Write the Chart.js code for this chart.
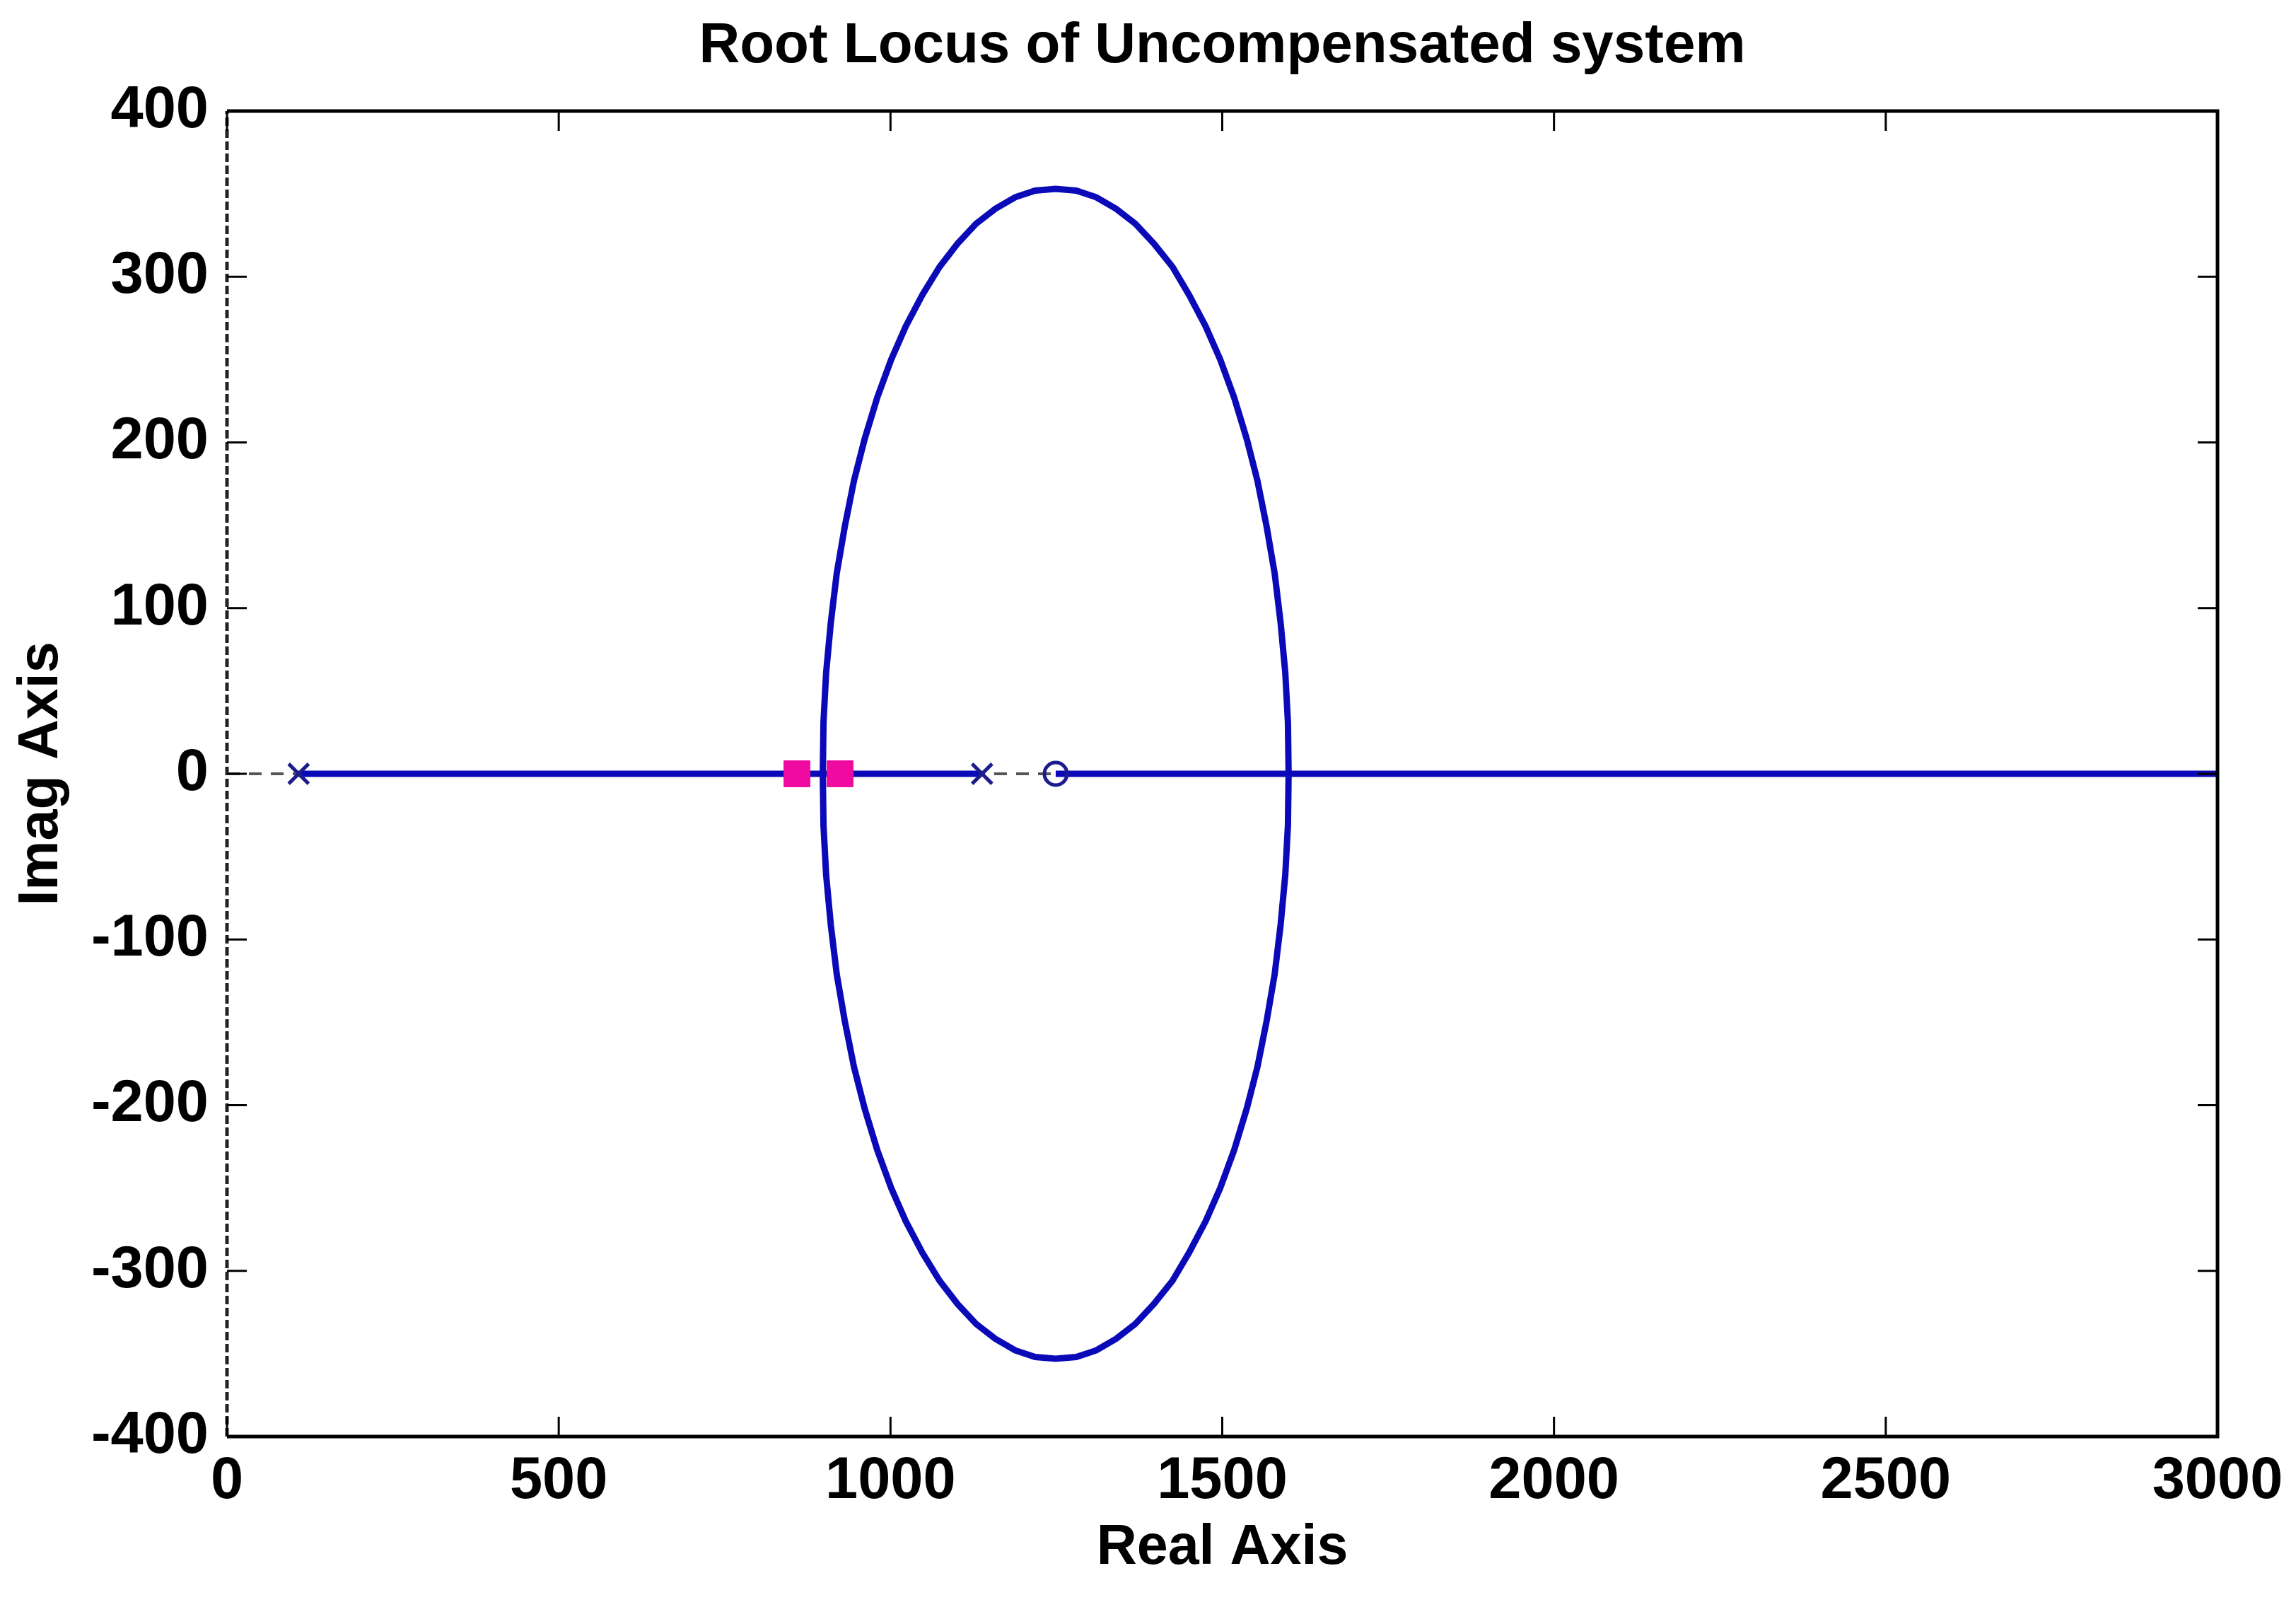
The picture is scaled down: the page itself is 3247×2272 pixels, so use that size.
<!DOCTYPE html>
<html>
<head>
<meta charset="utf-8">
<script src="https://cdn.jsdelivr.net/npm/chart.js@4.4.1/dist/chart.umd.min.js"></script>
<style>
  html, body { margin: 0; padding: 0; background: #fff; }
  #wrap { width: 3247px; height: 2272px; }
</style>
</head>
<body>
<div id="wrap"><canvas id="locus" width="3247" height="2272"></canvas></div>
<script>
// tick labels
const xTickValues = [0, 500, 1000, 1500, 2000, 2500, 3000];
const yTickValues = [-400, -300, -200, -100, 0, 100, 200, 300, 400];

// open-loop poles (x) and zero (o), on the real axis
const poleRe = [108, 1138];
const zeroRe = [1249];
// closed-loop poles (magenta squares)
const clPoleRe = [859, 924];

// real-axis parts of the locus
const realSeg1Re = [108, 1138];
const realSeg2Re = [1249, 3000];

// complex branch (breakaway ~898, break-in ~1600)
const branchRe = [898, 899, 903, 910, 919, 931, 945, 961, 980, 1001, 1023, 1048, 1074,
                  1101, 1129, 1158, 1188, 1218, 1249, 1280, 1310, 1340, 1369, 1397, 1425,
                  1450, 1475, 1497, 1518, 1537, 1553, 1567, 1579, 1588, 1595, 1599, 1600];
const branchImUp = [0, 31, 61, 91, 121, 149, 177, 202, 227, 250, 270, 289, 306,
                    320, 332, 341, 348, 352, 353, 352, 348, 341, 332, 320, 306,
                    289, 270, 250, 227, 202, 177, 149, 121, 91, 61, 31, 0];
const branchImDown = [0, -31, -61, -91, -121, -149, -177, -202, -227, -250, -270, -289, -306,
                      -320, -332, -341, -348, -352, -353, -352, -348, -341, -332, -320, -306,
                      -289, -270, -250, -227, -202, -177, -149, -121, -91, -61, -31, 0];

const blue = '#0a0ab8';
const markBlue = '#1c1c8c';
const magenta = '#f00aa0';

const onAxis = arr => arr.map(v => ({ x: v, y: 0 }));
const zip = (xs, ys) => xs.map((v, i) => ({ x: v, y: ys[i] }));

const tickFont = { family: "'Liberation Sans', Arial, sans-serif", size: 83, weight: 'bold' };
const labelFont = { family: "'Liberation Sans', Arial, sans-serif", size: 79, weight: 'bold' };

// MATLAB-style box: solid top/right/bottom, inward ticks on all sides
const framePlugin = {
  id: 'matlabFrame',
  afterDraw(chart) {
    const { ctx, chartArea: a, scales: { x, y } } = chart;
    ctx.save();
    ctx.strokeStyle = '#000';
    ctx.lineWidth = 3;
    ctx.beginPath();
    x.ticks.forEach(t => {
      const px = x.getPixelForValue(t.value);
      ctx.moveTo(px, a.bottom); ctx.lineTo(px, a.bottom - 28);
      ctx.moveTo(px, a.top); ctx.lineTo(px, a.top + 28);
    });
    y.ticks.forEach(t => {
      const py = y.getPixelForValue(t.value);
      ctx.moveTo(a.left, py); ctx.lineTo(a.left + 28, py);
      ctx.moveTo(a.right, py); ctx.lineTo(a.right - 28, py);
    });
    ctx.stroke();
    ctx.lineWidth = 5;
    ctx.beginPath();
    ctx.moveTo(a.left, a.top);
    ctx.lineTo(a.right, a.top);
    ctx.lineTo(a.right, a.bottom);
    ctx.lineTo(a.left, a.bottom);
    ctx.stroke();
    ctx.restore();
  }
};

const ctx = document.getElementById('locus').getContext('2d');
new Chart(ctx, {
  type: 'scatter',
  data: {
    datasets: [
      // dashed real and imaginary axis lines
      {
        data: [{ x: 0, y: 0 }, { x: 3000, y: 0 }],
        showLine: true, borderColor: '#555', borderWidth: 4, borderDash: [18, 13],
        pointRadius: 0, order: 10
      },
      {
        data: [{ x: 0, y: -400 }, { x: 0, y: 400 }],
        showLine: true, borderColor: '#222', borderWidth: 5, borderDash: [12, 5],
        pointRadius: 0, order: 10, clip: false
      },
      // locus branches
      { data: onAxis(realSeg1Re), showLine: true, borderColor: blue, borderWidth: 9, pointRadius: 0, order: 5 },
      { data: onAxis(realSeg2Re), showLine: true, borderColor: blue, borderWidth: 9, pointRadius: 0, order: 5 },
      { data: zip(branchRe, branchImUp), showLine: true, borderColor: blue, borderWidth: 9, pointRadius: 0, order: 5 },
      { data: zip(branchRe, branchImDown), showLine: true, borderColor: blue, borderWidth: 9, pointRadius: 0, order: 5 },
      // poles and zero
      {
        data: onAxis(poleRe), showLine: false, pointStyle: 'crossRot', pointRadius: 20,
        borderColor: markBlue, borderWidth: 5, order: 2
      },
      {
        data: onAxis(zeroRe), showLine: false, pointStyle: 'circle', pointRadius: 16,
        borderColor: markBlue, backgroundColor: 'rgba(0,0,0,0)', borderWidth: 5, order: 2
      },
      // closed-loop poles
      {
        data: onAxis(clPoleRe), showLine: false, pointStyle: 'rect', pointRadius: 26,
        borderColor: magenta, backgroundColor: magenta, borderWidth: 1, order: 1
      }
    ]
  },
  options: {
    responsive: false,
    animation: false,
    devicePixelRatio: 1,
    events: [],
    layout: { padding: { left: 0, right: 111, top: 0, bottom: 0 } },
    plugins: {
      legend: { display: false },
      tooltip: { enabled: false },
      title: {
        display: true,
        text: 'Root Locus of Uncompensated system',
        fullSize: false,
        color: '#000',
        font: { family: "'Liberation Sans', Arial, sans-serif", size: 80, weight: 'bold' },
        padding: { top: 18, bottom: 43 }
      }
    },
    scales: {
      x: {
        type: 'linear',
        min: 0,
        max: 3000,
        afterBuildTicks: s => { s.ticks = xTickValues.map(v => ({ value: v })); },
        afterFit: s => { s.height = 241; },
        grid: { display: false, drawTicks: false },
        border: { display: false },
        ticks: { color: '#000', font: tickFont, padding: 14, maxRotation: 0, autoSkip: false,
                 callback: v => String(v) },
        title: { display: true, text: 'Real Axis', color: '#000', font: labelFont, padding: { top: 0, bottom: 35 } }
      },
      y: {
        type: 'linear',
        min: -400,
        max: 400,
        afterBuildTicks: s => { s.ticks = yTickValues.map(v => ({ value: v })); },
        afterFit: s => { s.width = 321; },
        grid: { display: false, drawTicks: false },
        border: { display: false },
        ticks: { color: '#000', font: tickFont, padding: 26, autoSkip: false,
                 callback: v => String(v) },
        title: { display: true, text: 'Imag Axis', color: '#000', font: labelFont, padding: { top: 12, bottom: 0 } }
      }
    }
  },
  plugins: [framePlugin]
});
</script>
</body>
</html>
